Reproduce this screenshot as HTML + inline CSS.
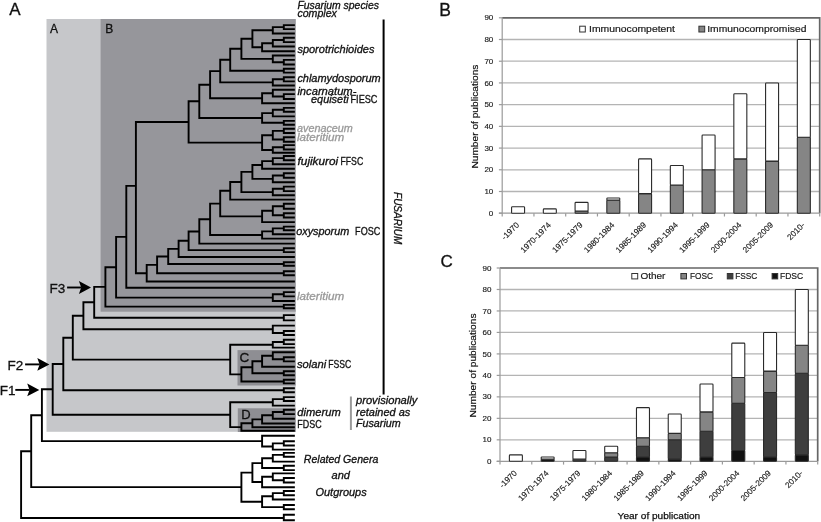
<!DOCTYPE html>
<html><head><meta charset="utf-8"><title>Fusarium figure</title>
<style>
html,body{margin:0;padding:0;background:#fff;}
svg{display:block;filter:blur(0.3px);}
text{font-family:"Liberation Sans",Arial,sans-serif;fill:#111;}
.tb{stroke:#111;stroke-width:0.3px;}
.tb.gr{stroke:#9a9a9a;}
.it{font-style:italic;}
.gr{fill:#9a9a9a;}
.tk{font-size:8px;fill:#1a1a1a;stroke:#1a1a1a;stroke-width:0.15px;}
.xl{font-size:8.2px;fill:#1a1a1a;stroke:#1a1a1a;stroke-width:0.15px;}
.lg{font-size:9.5px;fill:#1a1a1a;stroke:#1a1a1a;stroke-width:0.2px;}
.tl{font-size:10.5px;}
</style></head>
<body>
<svg width="821" height="522" viewBox="0 0 821 522">
<rect x="0" y="0" width="821" height="522" fill="#fff"/>
<!-- Panel A: shaded clade boxes -->
<rect x="46.5" y="19" width="249.2" height="412.8" fill="#c6c7ca"/>
<rect x="100.6" y="19" width="195.1" height="292.7" fill="#96969b"/>
<rect x="237.5" y="350.1" width="58.2" height="35.4" fill="#8e8e93"/>
<rect x="237.8" y="408.3" width="57.9" height="23.7" fill="#8e8e93"/>
<text x="9.3" y="14.9" class="tb" style="font-size:17px">A</text>
<text x="50" y="32.9" class="tb" style="font-size:12px">A</text>
<text x="105.3" y="32.9" class="tb" style="font-size:12px">B</text>
<text x="239.4" y="362" class="tb" style="font-size:13.5px">C</text>
<text x="241.2" y="419.2" class="tb" style="font-size:13px">D</text>
<path d="M21.1 451.2V518.0M21.1 451.2H31.2M31.2 415.2V487.1M31.2 415.2H41.9M41.9 389.3V441.1M41.9 389.3H52.7M52.7 364.0V414.7M52.7 364.0H63.3M63.3 337.7V390.2M63.3 337.7H72.8M72.8 315.8V359.6M72.8 315.8H83.4M83.4 302.3V329.3M83.4 302.3H94.2M94.2 286.9V317.8M94.2 286.9H105.4M105.4 267.2V306.6M105.4 267.2H116.1M116.1 236.9V297.6M116.1 236.9H126.3M126.3 185.9V287.8M126.3 185.9H135.9M135.9 122.0V273.2M135.9 122.0H188.6M188.6 101.3V142.6M188.6 101.3H199.3M199.3 84.7V118.0M199.3 84.7H210.1M210.1 71.1V98.2M210.1 71.1H220.2M220.2 59.8V82.4M220.2 59.8H230.2M230.2 48.8V70.7M230.2 48.8H241.4M241.4 38.8V58.9M241.4 38.8H252.4M252.4 30.3V47.2M252.4 30.3H272.8M272.8 27.1V33.5M272.8 27.1H283.8M283.8 25.1V29.1M283.8 25.1H293.9M283.8 29.1H293.9M272.8 33.5H293.9M252.4 47.2H262.1M262.1 43.2V51.2M262.1 43.2H272.8M272.8 40.0V46.5M272.8 40.0H283.8M283.8 37.8V42.1M283.8 37.8H293.9M283.8 42.1H293.9M272.8 46.5H293.9M262.1 51.2H293.9M241.4 58.9H272.8M272.8 55.5V62.2M272.8 55.5H293.9M272.8 62.2H283.8M283.8 59.9V64.5M283.8 59.9H293.9M283.8 64.5H293.9M230.2 70.7H283.8M283.8 68.8V72.6M283.8 68.8H293.9M283.8 72.6H293.9M220.2 82.4H272.8M272.8 79.3V85.5M272.8 79.3H283.8M283.8 77.2V81.4M283.8 77.2H293.9M283.8 81.4H293.9M272.8 85.5H293.9M210.1 98.2H262.1M262.1 93.2V103.3M262.1 93.2H272.8M272.8 89.8V96.5M272.8 89.8H293.9M272.8 96.5H283.8M283.8 94.1V99.0M283.8 94.1H293.9M283.8 99.0H293.9M262.1 103.3H293.9M199.3 118.0H262.1M262.1 113.1V122.8M262.1 113.1H272.8M272.8 109.8V116.4M272.8 109.8H283.8M283.8 107.9V111.8M283.8 107.9H293.9M283.8 111.8H293.9M272.8 116.4H293.9M262.1 122.8H283.8M283.8 120.9V124.8M283.8 120.9H293.9M283.8 124.8H293.9M188.6 142.6H262.1M262.1 135.2V150.0M262.1 135.2H272.8M272.8 130.9V139.5M272.8 130.9H283.8M283.8 128.8V133.0M283.8 128.8H293.9M283.8 133.0H293.9M272.8 139.5H283.8M283.8 137.3V141.7M283.8 137.3H293.9M283.8 141.7H293.9M262.1 150.0H272.8M272.8 147.3V152.7M272.8 147.3H283.8M283.8 145.1V149.5M283.8 145.1H293.9M283.8 149.5H293.9M272.8 152.7H293.9M135.9 273.2H146.7M146.7 264.9V281.5M146.7 264.9H157.1M157.1 256.5V273.3M157.1 256.5H168.2M168.2 248.9V264.0M168.2 248.9H178.6M178.6 240.8V257.0M178.6 240.8H188.6M188.6 231.5V250.1M188.6 231.5H199.3M199.3 219.3V243.6M199.3 219.3H210.1M210.1 203.6V235.0M210.1 203.6H220.2M220.2 190.8V216.4M220.2 190.8H230.2M230.2 182.0V199.6M230.2 182.0H241.4M241.4 171.9V192.1M241.4 171.9H252.4M252.4 165.0V178.9M252.4 165.0H262.1M262.1 161.1V168.8M262.1 161.1H272.8M272.8 158.1V164.2M272.8 158.1H283.8M283.8 156.0V160.2M283.8 156.0H293.9M283.8 160.2H293.9M272.8 164.2H293.9M262.1 168.8H293.9M252.4 178.9H272.8M272.8 175.5V182.3M272.8 175.5H283.8M283.8 173.3V177.7M283.8 173.3H293.9M283.8 177.7H293.9M272.8 182.3H293.9M241.4 192.1H272.8M272.8 188.8V195.3M272.8 188.8H283.8M283.8 186.6V191.1M283.8 186.6H293.9M283.8 191.1H293.9M272.8 195.3H293.9M230.2 199.6H293.9M220.2 216.4H262.1M262.1 210.8V222.1M262.1 210.8H272.8M272.8 206.2V215.3M272.8 206.2H283.8M283.8 203.8V208.7M283.8 203.8H293.9M283.8 208.7H293.9M272.8 215.3H283.8M283.8 213.2V217.5M283.8 213.2H293.9M283.8 217.5H293.9M262.1 222.1H293.9M210.1 235.0H262.1M262.1 231.4V238.6M262.1 231.4H272.8M272.8 228.4V234.3M272.8 228.4H283.8M283.8 226.6V230.3M283.8 226.6H293.9M283.8 230.3H293.9M272.8 234.3H293.9M262.1 238.6H293.9M199.3 243.6H293.9M188.6 250.1H283.8M283.8 248.2V252.1M283.8 248.2H293.9M283.8 252.1H293.9M178.6 257.0H293.9M168.2 264.0H283.8M283.8 262.2V265.8M283.8 262.2H293.9M283.8 265.8H293.9M157.1 273.3H283.8M283.8 271.3V275.3M283.8 271.3H293.9M283.8 275.3H293.9M146.7 281.5H293.9M126.3 287.8H293.9M116.1 297.6H272.8M272.8 294.2V301.0M272.8 294.2H283.8M283.8 292.1V296.4M283.8 292.1H293.9M283.8 296.4H293.9M272.8 301.0H293.9M105.4 306.6H283.8M283.8 304.9V308.3M283.8 304.9H293.9M283.8 308.3H293.9M94.2 317.8H283.8M283.8 315.1V320.4M283.8 315.1H293.9M283.8 320.4H293.9M83.4 329.3H272.8M272.8 325.6V333.0M272.8 325.6H293.9M272.8 333.0H283.8M283.8 331.0V335.0M283.8 331.0H293.9M283.8 335.0H293.9M72.8 359.6H230.2M230.2 344.8V374.4M230.2 344.8H272.8M272.8 342.0V347.6M272.8 342.0H283.8M283.8 339.8V344.1M283.8 339.8H293.9M283.8 344.1H293.9M272.8 347.6H293.9M230.2 374.4H241.4M241.4 367.2V381.5M241.4 367.2H252.4M252.4 361.2V373.2M252.4 361.2H262.1M262.1 355.8V366.7M262.1 355.8H272.8M272.8 352.3V359.3M272.8 352.3H293.9M272.8 359.3H283.8M283.8 357.2V361.4M283.8 357.2H293.9M283.8 361.4H293.9M262.1 366.7H293.9M252.4 373.2H283.8M283.8 371.2V375.2M283.8 371.2H293.9M283.8 375.2H293.9M241.4 381.5H283.8M283.8 379.7V383.4M283.8 379.7H293.9M283.8 383.4H293.9M63.3 390.2H283.8M283.8 388.3V392.2M283.8 388.3H293.9M283.8 392.2H293.9M52.7 414.7H230.2M230.2 402.3V427.1M230.2 402.3H272.8M272.8 399.1V405.6M272.8 399.1H283.8M283.8 397.1V401.0M283.8 397.1H293.9M283.8 401.0H293.9M272.8 405.6H293.9M230.2 427.1H241.4M241.4 423.3V430.8M241.4 423.3H252.4M252.4 419.4V427.2M252.4 419.4H262.1M262.1 415.3V423.5M262.1 415.3H272.8M272.8 412.0V418.7M272.8 412.0H283.8M283.8 409.8V414.1M283.8 409.8H293.9M283.8 414.1H293.9M272.8 418.7H293.9M262.1 423.5H293.9M252.4 427.2H293.9M241.4 430.8H293.9M41.9 441.1H262.1M262.1 435.7V446.5M262.1 435.7H293.9M262.1 446.5H272.8M272.8 443.4V449.6M272.8 443.4H283.8M283.8 441.2V445.5M283.8 441.2H293.9M283.8 445.5H293.9M272.8 449.6H293.9M31.2 487.1H241.4M241.4 472.6V501.7M241.4 472.6H252.4M252.4 463.1V482.0M252.4 463.1H262.1M262.1 458.2V468.0M262.1 458.2H272.8M272.8 454.9V461.6M272.8 454.9H283.8M283.8 452.9V456.8M283.8 452.9H293.9M283.8 456.8H293.9M272.8 461.6H293.9M262.1 468.0H283.8M283.8 465.8V470.1M283.8 465.8H293.9M283.8 470.1H293.9M252.4 482.0H262.1M262.1 476.8V487.2M262.1 476.8H272.8M272.8 473.4V480.2M272.8 473.4H293.9M272.8 480.2H283.8M283.8 478.0V482.5M283.8 478.0H293.9M283.8 482.5H293.9M262.1 487.2H293.9M241.4 501.7H262.1M262.1 496.3V507.1M262.1 496.3H272.8M272.8 493.1V499.5M272.8 493.1H283.8M283.8 491.0V495.2M283.8 491.0H293.9M283.8 495.2H293.9M272.8 499.5H293.9M262.1 507.1H283.8M283.8 505.0V509.2M283.8 505.0H293.9M283.8 509.2H293.9M21.1 518.0H283.8M283.8 514.7V520.2M283.8 514.7H293.9M283.8 520.2H293.9" fill="none" stroke="#000" stroke-width="1.9" stroke-linecap="square"/>
<!-- arrows -->
<g fill="#000" stroke="#000">
<line x1="67.1" y1="287.5" x2="81.4" y2="287.5" stroke-width="1.9"/>
<path d="M78.9 281.1L91.0 287.5L78.9 293.9L81.2 287.5Z" stroke="none"/>
<line x1="25.1" y1="364.4" x2="39.8" y2="364.4" stroke-width="1.9"/>
<path d="M37.3 358.0L49.4 364.4L37.3 370.8L39.6 364.4Z" stroke="none"/>
<line x1="15.3" y1="389.9" x2="29.7" y2="389.9" stroke-width="1.9"/>
<path d="M27.2 383.5L39.3 389.9L27.2 396.3L29.5 389.9Z" stroke="none"/>
</g>
<text x="49.4" y="293" class="tb" style="font-size:13.5px">F3</text>
<text x="7.4" y="369.6" class="tb" style="font-size:13.5px">F2</text>
<text x="-0.3" y="395" class="tb" style="font-size:13.5px">F1</text>
<!-- tree labels -->
<text x="297.4" y="8.5" class="it tb" textLength="81.5" lengthAdjust="spacingAndGlyphs" style="font-size:10.2px;">Fusarium species</text>
<text x="297.4" y="17" class="it tb" textLength="39.5" lengthAdjust="spacingAndGlyphs" style="font-size:10.2px;">complex</text>
<text x="297.4" y="52.7" class="it tb" textLength="77" lengthAdjust="spacingAndGlyphs" style="font-size:10.2px;">sporotrichioides</text>
<text x="297.4" y="82.2" class="it tb" textLength="83.3" lengthAdjust="spacingAndGlyphs" style="font-size:10.2px;">chlamydosporum</text>
<text x="297.4" y="94.5" class="it tb" textLength="59" lengthAdjust="spacingAndGlyphs" style="font-size:10.2px;">incarnatum-</text>
<text x="311" y="103.3" class="it tb" textLength="37.6" lengthAdjust="spacingAndGlyphs" style="font-size:10.2px;">equiseti</text>
<text x="350.5" y="103.3" class="tb" textLength="27" lengthAdjust="spacingAndGlyphs" style="font-size:10.2px;">FIESC</text>
<text x="297" y="132.4" class="it gr tb" textLength="55.8" lengthAdjust="spacingAndGlyphs" style="font-size:10.2px;">avenaceum</text>
<text x="297" y="141.1" class="it gr tb" textLength="47.3" lengthAdjust="spacingAndGlyphs" style="font-size:10.2px;">lateritium</text>
<text x="297.6" y="165.4" class="it tb" textLength="40.5" lengthAdjust="spacingAndGlyphs" style="font-size:10.2px;">fujikuroi</text>
<text x="340.4" y="165.4" class="tb" textLength="22.8" lengthAdjust="spacingAndGlyphs" style="font-size:10.2px;">FFSC</text>
<text x="296.2" y="235" class="it tb" textLength="53" lengthAdjust="spacingAndGlyphs" style="font-size:10.2px;">oxysporum</text>
<text x="355.1" y="235" class="tb" textLength="25.2" lengthAdjust="spacingAndGlyphs" style="font-size:10.2px;">FOSC</text>
<text x="297" y="299.7" class="it gr tb" textLength="47.3" lengthAdjust="spacingAndGlyphs" style="font-size:10.2px;">lateritium</text>
<text x="297" y="367.5" class="it tb" textLength="29.2" lengthAdjust="spacingAndGlyphs" style="font-size:10.2px;">solani</text>
<text x="328.3" y="367.5" class="tb" textLength="23" lengthAdjust="spacingAndGlyphs" style="font-size:10.2px;">FSSC</text>
<text x="297.3" y="415.6" class="it tb" textLength="43.4" lengthAdjust="spacingAndGlyphs" style="font-size:10.2px;">dimerum</text>
<text x="297.3" y="427.7" class="tb" textLength="24.3" lengthAdjust="spacingAndGlyphs" style="font-size:10.2px;">FDSC</text>
<text x="356" y="404.1" class="it tb" textLength="61.3" lengthAdjust="spacingAndGlyphs" style="font-size:10.2px;">provisionally</text>
<text x="356" y="415.6" class="it tb" textLength="54.2" lengthAdjust="spacingAndGlyphs" style="font-size:10.2px;">retained as</text>
<text x="356" y="427.1" class="it tb" textLength="44.7" lengthAdjust="spacingAndGlyphs" style="font-size:10.2px;">Fusarium</text>
<text x="303.8" y="462.8" class="it tb" textLength="74.5" lengthAdjust="spacingAndGlyphs" style="font-size:10.2px;">Related Genera</text>
<text x="331.6" y="479" class="it tb" textLength="18.4" lengthAdjust="spacingAndGlyphs" style="font-size:10.2px;">and</text>
<text x="315.5" y="495.8" class="it tb" textLength="51.2" lengthAdjust="spacingAndGlyphs" style="font-size:10.2px;">Outgroups</text>
<line x1="383.6" y1="19.4" x2="383.6" y2="394.6" stroke="#000" stroke-width="2"/>
<line x1="350.9" y1="396.5" x2="350.9" y2="430" stroke="#9a9a9a" stroke-width="2"/>
<text x="0" y="0" class="it tb" style="font-size:10px" textLength="52.4" lengthAdjust="spacingAndGlyphs" transform="translate(394.4 192) rotate(90)">FUSARIUM</text>
<!-- Chart B -->
<text x="439.3" y="15.8" class="tb" style="font-size:17.5px">B</text>
<line x1="502.2" y1="191.49" x2="819.7" y2="191.49" stroke="#b4b4b4" stroke-width="1.3"/>
<line x1="502.2" y1="169.78" x2="819.7" y2="169.78" stroke="#b4b4b4" stroke-width="1.3"/>
<line x1="502.2" y1="148.07" x2="819.7" y2="148.07" stroke="#b4b4b4" stroke-width="1.3"/>
<line x1="502.2" y1="126.36" x2="819.7" y2="126.36" stroke="#b4b4b4" stroke-width="1.3"/>
<line x1="502.2" y1="104.64" x2="819.7" y2="104.64" stroke="#b4b4b4" stroke-width="1.3"/>
<line x1="502.2" y1="82.93" x2="819.7" y2="82.93" stroke="#b4b4b4" stroke-width="1.3"/>
<line x1="502.2" y1="61.22" x2="819.7" y2="61.22" stroke="#b4b4b4" stroke-width="1.3"/>
<line x1="502.2" y1="39.51" x2="819.7" y2="39.51" stroke="#b4b4b4" stroke-width="1.3"/>
<path d="M502.2 17.80H819.7V213.20" fill="none" stroke="#666" stroke-width="1.7"/>
<line x1="502.2" y1="17.80" x2="502.2" y2="216.50" stroke="#9a9a9a" stroke-width="1.2"/>
<line x1="498.9" y1="213.20" x2="819.7" y2="213.20" stroke="#9a9a9a" stroke-width="1.2"/>
<line x1="498.9" y1="213.20" x2="502.2" y2="213.20" stroke="#9a9a9a" stroke-width="1.2"/>
<text x="493.3" y="215.80" text-anchor="end" class="tk">0</text>
<line x1="498.9" y1="191.49" x2="502.2" y2="191.49" stroke="#9a9a9a" stroke-width="1.2"/>
<text x="493.3" y="194.09" text-anchor="end" class="tk">10</text>
<line x1="498.9" y1="169.78" x2="502.2" y2="169.78" stroke="#9a9a9a" stroke-width="1.2"/>
<text x="493.3" y="172.38" text-anchor="end" class="tk">20</text>
<line x1="498.9" y1="148.07" x2="502.2" y2="148.07" stroke="#9a9a9a" stroke-width="1.2"/>
<text x="493.3" y="150.67" text-anchor="end" class="tk">30</text>
<line x1="498.9" y1="126.36" x2="502.2" y2="126.36" stroke="#9a9a9a" stroke-width="1.2"/>
<text x="493.3" y="128.96" text-anchor="end" class="tk">40</text>
<line x1="498.9" y1="104.64" x2="502.2" y2="104.64" stroke="#9a9a9a" stroke-width="1.2"/>
<text x="493.3" y="107.24" text-anchor="end" class="tk">50</text>
<line x1="498.9" y1="82.93" x2="502.2" y2="82.93" stroke="#9a9a9a" stroke-width="1.2"/>
<text x="493.3" y="85.53" text-anchor="end" class="tk">60</text>
<line x1="498.9" y1="61.22" x2="502.2" y2="61.22" stroke="#9a9a9a" stroke-width="1.2"/>
<text x="493.3" y="63.82" text-anchor="end" class="tk">70</text>
<line x1="498.9" y1="39.51" x2="502.2" y2="39.51" stroke="#9a9a9a" stroke-width="1.2"/>
<text x="493.3" y="42.11" text-anchor="end" class="tk">80</text>
<line x1="498.9" y1="17.80" x2="502.2" y2="17.80" stroke="#9a9a9a" stroke-width="1.2"/>
<text x="493.3" y="20.40" text-anchor="end" class="tk">90</text>
<line x1="533.95" y1="213.20" x2="533.95" y2="216.50" stroke="#9a9a9a" stroke-width="1.2"/>
<line x1="565.70" y1="213.20" x2="565.70" y2="216.50" stroke="#9a9a9a" stroke-width="1.2"/>
<line x1="597.45" y1="213.20" x2="597.45" y2="216.50" stroke="#9a9a9a" stroke-width="1.2"/>
<line x1="629.20" y1="213.20" x2="629.20" y2="216.50" stroke="#9a9a9a" stroke-width="1.2"/>
<line x1="660.95" y1="213.20" x2="660.95" y2="216.50" stroke="#9a9a9a" stroke-width="1.2"/>
<line x1="692.70" y1="213.20" x2="692.70" y2="216.50" stroke="#9a9a9a" stroke-width="1.2"/>
<line x1="724.45" y1="213.20" x2="724.45" y2="216.50" stroke="#9a9a9a" stroke-width="1.2"/>
<line x1="756.20" y1="213.20" x2="756.20" y2="216.50" stroke="#9a9a9a" stroke-width="1.2"/>
<line x1="787.95" y1="213.20" x2="787.95" y2="216.50" stroke="#9a9a9a" stroke-width="1.2"/>
<line x1="819.70" y1="213.20" x2="819.70" y2="216.50" stroke="#9a9a9a" stroke-width="1.2"/>
<rect x="511.58" y="206.69" width="13.0" height="6.51" fill="#ffffff" stroke="#2a2a2a" stroke-width="1.1" rx="0.8"/>
<rect x="543.33" y="208.86" width="13.0" height="4.34" fill="#ffffff" stroke="#2a2a2a" stroke-width="1.1" rx="0.8"/>
<rect x="575.08" y="211.03" width="13.0" height="2.17" fill="#858585" stroke="#2a2a2a" stroke-width="1.1" rx="0.8"/>
<rect x="575.08" y="202.34" width="13.0" height="8.68" fill="#ffffff" stroke="#2a2a2a" stroke-width="1.1" rx="0.8"/>
<rect x="606.83" y="200.17" width="13.0" height="13.03" fill="#858585" stroke="#2a2a2a" stroke-width="1.1" rx="0.8"/>
<rect x="606.83" y="198.00" width="13.0" height="2.17" fill="#ffffff" stroke="#2a2a2a" stroke-width="1.1" rx="0.8"/>
<rect x="638.58" y="193.66" width="13.0" height="19.54" fill="#858585" stroke="#2a2a2a" stroke-width="1.1" rx="0.8"/>
<rect x="638.58" y="158.92" width="13.0" height="34.74" fill="#ffffff" stroke="#2a2a2a" stroke-width="1.1" rx="0.8"/>
<rect x="670.33" y="184.98" width="13.0" height="28.22" fill="#858585" stroke="#2a2a2a" stroke-width="1.1" rx="0.8"/>
<rect x="670.33" y="165.44" width="13.0" height="19.54" fill="#ffffff" stroke="#2a2a2a" stroke-width="1.1" rx="0.8"/>
<rect x="702.08" y="169.78" width="13.0" height="43.42" fill="#858585" stroke="#2a2a2a" stroke-width="1.1" rx="0.8"/>
<rect x="702.08" y="135.04" width="13.0" height="34.74" fill="#ffffff" stroke="#2a2a2a" stroke-width="1.1" rx="0.8"/>
<rect x="733.83" y="158.92" width="13.0" height="54.28" fill="#858585" stroke="#2a2a2a" stroke-width="1.1" rx="0.8"/>
<rect x="733.83" y="93.79" width="13.0" height="65.13" fill="#ffffff" stroke="#2a2a2a" stroke-width="1.1" rx="0.8"/>
<rect x="765.58" y="161.09" width="13.0" height="52.11" fill="#858585" stroke="#2a2a2a" stroke-width="1.1" rx="0.8"/>
<rect x="765.58" y="82.93" width="13.0" height="78.16" fill="#ffffff" stroke="#2a2a2a" stroke-width="1.1" rx="0.8"/>
<rect x="797.33" y="137.21" width="13.0" height="75.99" fill="#858585" stroke="#2a2a2a" stroke-width="1.1" rx="0.8"/>
<rect x="797.33" y="39.51" width="13.0" height="97.70" fill="#ffffff" stroke="#2a2a2a" stroke-width="1.1" rx="0.8"/>
<text x="519.7" y="225.6" text-anchor="end" class="xl" transform="rotate(-45 519.7 225.6)">-1970</text>
<text x="551.4" y="225.6" text-anchor="end" class="xl" transform="rotate(-45 551.4 225.6)">1970-1974</text>
<text x="583.2" y="225.6" text-anchor="end" class="xl" transform="rotate(-45 583.2 225.6)">1975-1979</text>
<text x="614.9" y="225.6" text-anchor="end" class="xl" transform="rotate(-45 614.9 225.6)">1980-1984</text>
<text x="646.7" y="225.6" text-anchor="end" class="xl" transform="rotate(-45 646.7 225.6)">1985-1989</text>
<text x="678.4" y="225.6" text-anchor="end" class="xl" transform="rotate(-45 678.4 225.6)">1990-1994</text>
<text x="710.2" y="225.6" text-anchor="end" class="xl" transform="rotate(-45 710.2 225.6)">1995-1999</text>
<text x="741.9" y="225.6" text-anchor="end" class="xl" transform="rotate(-45 741.9 225.6)">2000-2004</text>
<text x="773.7" y="225.6" text-anchor="end" class="xl" transform="rotate(-45 773.7 225.6)">2005-2009</text>
<text x="805.4" y="225.6" text-anchor="end" class="xl" transform="rotate(-45 805.4 225.6)">2010-</text>
<rect x="579.7" y="26.2" width="5.6" height="5.8" fill="#fff" stroke="#333" stroke-width="1"/>
<text x="589" y="31.9" class="lg" textLength="86" lengthAdjust="spacingAndGlyphs">Immunocompetent</text>
<rect x="698.9" y="26.2" width="5.8" height="5.8" fill="#858585" stroke="#333" stroke-width="1"/>
<text x="707.2" y="31.9" class="lg" textLength="99.2" lengthAdjust="spacingAndGlyphs">Immunocompromised</text>
<text x="0" y="0" style="font-size:9.5px;fill:#111;stroke:#111;stroke-width:0.2px" text-anchor="middle" textLength="104" lengthAdjust="spacingAndGlyphs" transform="translate(478.3 116.6) rotate(-90)">Number of publications</text>
<!-- Chart C -->
<text x="440.5" y="266.8" class="tb" style="font-size:17px">C</text>
<line x1="500.0" y1="439.82" x2="817.7" y2="439.82" stroke="#b4b4b4" stroke-width="1.3"/>
<line x1="500.0" y1="418.34" x2="817.7" y2="418.34" stroke="#b4b4b4" stroke-width="1.3"/>
<line x1="500.0" y1="396.87" x2="817.7" y2="396.87" stroke="#b4b4b4" stroke-width="1.3"/>
<line x1="500.0" y1="375.39" x2="817.7" y2="375.39" stroke="#b4b4b4" stroke-width="1.3"/>
<line x1="500.0" y1="353.91" x2="817.7" y2="353.91" stroke="#b4b4b4" stroke-width="1.3"/>
<line x1="500.0" y1="332.43" x2="817.7" y2="332.43" stroke="#b4b4b4" stroke-width="1.3"/>
<line x1="500.0" y1="310.96" x2="817.7" y2="310.96" stroke="#b4b4b4" stroke-width="1.3"/>
<line x1="500.0" y1="289.48" x2="817.7" y2="289.48" stroke="#b4b4b4" stroke-width="1.3"/>
<path d="M500.0 268.00H817.7V461.30" fill="none" stroke="#666" stroke-width="1.7"/>
<line x1="500.0" y1="268.00" x2="500.0" y2="464.60" stroke="#9a9a9a" stroke-width="1.2"/>
<line x1="496.7" y1="461.30" x2="817.7" y2="461.30" stroke="#9a9a9a" stroke-width="1.2"/>
<line x1="496.7" y1="461.30" x2="500.0" y2="461.30" stroke="#9a9a9a" stroke-width="1.2"/>
<text x="491.5" y="463.90" text-anchor="end" class="tk">0</text>
<line x1="496.7" y1="439.82" x2="500.0" y2="439.82" stroke="#9a9a9a" stroke-width="1.2"/>
<text x="491.5" y="442.42" text-anchor="end" class="tk">10</text>
<line x1="496.7" y1="418.34" x2="500.0" y2="418.34" stroke="#9a9a9a" stroke-width="1.2"/>
<text x="491.5" y="420.94" text-anchor="end" class="tk">20</text>
<line x1="496.7" y1="396.87" x2="500.0" y2="396.87" stroke="#9a9a9a" stroke-width="1.2"/>
<text x="491.5" y="399.47" text-anchor="end" class="tk">30</text>
<line x1="496.7" y1="375.39" x2="500.0" y2="375.39" stroke="#9a9a9a" stroke-width="1.2"/>
<text x="491.5" y="377.99" text-anchor="end" class="tk">40</text>
<line x1="496.7" y1="353.91" x2="500.0" y2="353.91" stroke="#9a9a9a" stroke-width="1.2"/>
<text x="491.5" y="356.51" text-anchor="end" class="tk">50</text>
<line x1="496.7" y1="332.43" x2="500.0" y2="332.43" stroke="#9a9a9a" stroke-width="1.2"/>
<text x="491.5" y="335.03" text-anchor="end" class="tk">60</text>
<line x1="496.7" y1="310.96" x2="500.0" y2="310.96" stroke="#9a9a9a" stroke-width="1.2"/>
<text x="491.5" y="313.56" text-anchor="end" class="tk">70</text>
<line x1="496.7" y1="289.48" x2="500.0" y2="289.48" stroke="#9a9a9a" stroke-width="1.2"/>
<text x="491.5" y="292.08" text-anchor="end" class="tk">80</text>
<line x1="496.7" y1="268.00" x2="500.0" y2="268.00" stroke="#9a9a9a" stroke-width="1.2"/>
<text x="491.5" y="270.60" text-anchor="end" class="tk">90</text>
<line x1="531.77" y1="461.30" x2="531.77" y2="464.60" stroke="#9a9a9a" stroke-width="1.2"/>
<line x1="563.54" y1="461.30" x2="563.54" y2="464.60" stroke="#9a9a9a" stroke-width="1.2"/>
<line x1="595.31" y1="461.30" x2="595.31" y2="464.60" stroke="#9a9a9a" stroke-width="1.2"/>
<line x1="627.08" y1="461.30" x2="627.08" y2="464.60" stroke="#9a9a9a" stroke-width="1.2"/>
<line x1="658.85" y1="461.30" x2="658.85" y2="464.60" stroke="#9a9a9a" stroke-width="1.2"/>
<line x1="690.62" y1="461.30" x2="690.62" y2="464.60" stroke="#9a9a9a" stroke-width="1.2"/>
<line x1="722.39" y1="461.30" x2="722.39" y2="464.60" stroke="#9a9a9a" stroke-width="1.2"/>
<line x1="754.16" y1="461.30" x2="754.16" y2="464.60" stroke="#9a9a9a" stroke-width="1.2"/>
<line x1="785.93" y1="461.30" x2="785.93" y2="464.60" stroke="#9a9a9a" stroke-width="1.2"/>
<line x1="817.70" y1="461.30" x2="817.70" y2="464.60" stroke="#9a9a9a" stroke-width="1.2"/>
<rect x="509.38" y="454.86" width="13.0" height="6.44" fill="#ffffff" stroke="#2a2a2a" stroke-width="1.1" rx="0.8"/>
<rect x="541.15" y="459.15" width="13.0" height="2.15" fill="#111111" stroke="#2a2a2a" stroke-width="1.1" rx="0.8"/>
<rect x="541.15" y="457.00" width="13.0" height="2.15" fill="#ffffff" stroke="#2a2a2a" stroke-width="1.1" rx="0.8"/>
<rect x="572.92" y="459.15" width="13.0" height="2.15" fill="#3e3e3e" stroke="#2a2a2a" stroke-width="1.1" rx="0.8"/>
<rect x="572.92" y="450.56" width="13.0" height="8.59" fill="#ffffff" stroke="#2a2a2a" stroke-width="1.1" rx="0.8"/>
<rect x="604.70" y="457.00" width="13.0" height="4.30" fill="#3e3e3e" stroke="#2a2a2a" stroke-width="1.1" rx="0.8"/>
<rect x="604.70" y="452.71" width="13.0" height="4.30" fill="#858585" stroke="#2a2a2a" stroke-width="1.1" rx="0.8"/>
<rect x="604.70" y="446.27" width="13.0" height="6.44" fill="#ffffff" stroke="#2a2a2a" stroke-width="1.1" rx="0.8"/>
<rect x="636.47" y="457.00" width="13.0" height="4.30" fill="#111111" stroke="#2a2a2a" stroke-width="1.1" rx="0.8"/>
<rect x="636.47" y="446.27" width="13.0" height="10.74" fill="#3e3e3e" stroke="#2a2a2a" stroke-width="1.1" rx="0.8"/>
<rect x="636.47" y="437.67" width="13.0" height="8.59" fill="#858585" stroke="#2a2a2a" stroke-width="1.1" rx="0.8"/>
<rect x="636.47" y="407.61" width="13.0" height="30.07" fill="#ffffff" stroke="#2a2a2a" stroke-width="1.1" rx="0.8"/>
<rect x="668.24" y="459.15" width="13.0" height="2.15" fill="#111111" stroke="#2a2a2a" stroke-width="1.1" rx="0.8"/>
<rect x="668.24" y="439.82" width="13.0" height="19.33" fill="#3e3e3e" stroke="#2a2a2a" stroke-width="1.1" rx="0.8"/>
<rect x="668.24" y="433.38" width="13.0" height="6.44" fill="#858585" stroke="#2a2a2a" stroke-width="1.1" rx="0.8"/>
<rect x="668.24" y="414.05" width="13.0" height="19.33" fill="#ffffff" stroke="#2a2a2a" stroke-width="1.1" rx="0.8"/>
<rect x="700.00" y="457.00" width="13.0" height="4.30" fill="#111111" stroke="#2a2a2a" stroke-width="1.1" rx="0.8"/>
<rect x="700.00" y="431.23" width="13.0" height="25.77" fill="#3e3e3e" stroke="#2a2a2a" stroke-width="1.1" rx="0.8"/>
<rect x="700.00" y="411.90" width="13.0" height="19.33" fill="#858585" stroke="#2a2a2a" stroke-width="1.1" rx="0.8"/>
<rect x="700.00" y="383.98" width="13.0" height="27.92" fill="#ffffff" stroke="#2a2a2a" stroke-width="1.1" rx="0.8"/>
<rect x="731.78" y="450.56" width="13.0" height="10.74" fill="#111111" stroke="#2a2a2a" stroke-width="1.1" rx="0.8"/>
<rect x="731.78" y="403.31" width="13.0" height="47.25" fill="#3e3e3e" stroke="#2a2a2a" stroke-width="1.1" rx="0.8"/>
<rect x="731.78" y="377.54" width="13.0" height="25.77" fill="#858585" stroke="#2a2a2a" stroke-width="1.1" rx="0.8"/>
<rect x="731.78" y="343.17" width="13.0" height="34.36" fill="#ffffff" stroke="#2a2a2a" stroke-width="1.1" rx="0.8"/>
<rect x="763.55" y="457.00" width="13.0" height="4.30" fill="#111111" stroke="#2a2a2a" stroke-width="1.1" rx="0.8"/>
<rect x="763.55" y="392.57" width="13.0" height="64.43" fill="#3e3e3e" stroke="#2a2a2a" stroke-width="1.1" rx="0.8"/>
<rect x="763.55" y="371.09" width="13.0" height="21.48" fill="#858585" stroke="#2a2a2a" stroke-width="1.1" rx="0.8"/>
<rect x="763.55" y="332.43" width="13.0" height="38.66" fill="#ffffff" stroke="#2a2a2a" stroke-width="1.1" rx="0.8"/>
<rect x="795.32" y="454.86" width="13.0" height="6.44" fill="#111111" stroke="#2a2a2a" stroke-width="1.1" rx="0.8"/>
<rect x="795.32" y="373.24" width="13.0" height="81.62" fill="#3e3e3e" stroke="#2a2a2a" stroke-width="1.1" rx="0.8"/>
<rect x="795.32" y="345.32" width="13.0" height="27.92" fill="#858585" stroke="#2a2a2a" stroke-width="1.1" rx="0.8"/>
<rect x="795.32" y="289.48" width="13.0" height="55.84" fill="#ffffff" stroke="#2a2a2a" stroke-width="1.1" rx="0.8"/>
<text x="517.5" y="473.7" text-anchor="end" class="xl" transform="rotate(-45 517.5 473.7)">-1970</text>
<text x="549.3" y="473.7" text-anchor="end" class="xl" transform="rotate(-45 549.3 473.7)">1970-1974</text>
<text x="581.0" y="473.7" text-anchor="end" class="xl" transform="rotate(-45 581.0 473.7)">1975-1979</text>
<text x="612.8" y="473.7" text-anchor="end" class="xl" transform="rotate(-45 612.8 473.7)">1980-1984</text>
<text x="644.6" y="473.7" text-anchor="end" class="xl" transform="rotate(-45 644.6 473.7)">1985-1989</text>
<text x="676.3" y="473.7" text-anchor="end" class="xl" transform="rotate(-45 676.3 473.7)">1990-1994</text>
<text x="708.1" y="473.7" text-anchor="end" class="xl" transform="rotate(-45 708.1 473.7)">1995-1999</text>
<text x="739.9" y="473.7" text-anchor="end" class="xl" transform="rotate(-45 739.9 473.7)">2000-2004</text>
<text x="771.6" y="473.7" text-anchor="end" class="xl" transform="rotate(-45 771.6 473.7)">2005-2009</text>
<text x="803.4" y="473.7" text-anchor="end" class="xl" transform="rotate(-45 803.4 473.7)">2010-</text>
<rect x="631.8" y="273.5" width="5.9" height="5.4" fill="#fff" stroke="#333" stroke-width="1"/>
<text x="640.4" y="279.3" class="lg" textLength="25" lengthAdjust="spacingAndGlyphs">Other</text>
<rect x="680.9" y="273.5" width="5.6" height="5.4" fill="#858585" stroke="#333" stroke-width="1"/>
<text x="689.9" y="279.3" class="lg" textLength="23" lengthAdjust="spacingAndGlyphs">FOSC</text>
<rect x="727.3" y="273.5" width="5.6" height="5.4" fill="#3e3e3e" stroke="#333" stroke-width="1"/>
<text x="735.2" y="279.3" class="lg" textLength="22.2" lengthAdjust="spacingAndGlyphs">FSSC</text>
<rect x="772.1" y="273.5" width="5.6" height="5.4" fill="#111" stroke="#333" stroke-width="1"/>
<text x="780" y="279.3" class="lg" textLength="23.2" lengthAdjust="spacingAndGlyphs">FDSC</text>
<text x="0" y="0" style="font-size:9.5px;fill:#111;stroke:#111;stroke-width:0.2px" text-anchor="middle" textLength="104" lengthAdjust="spacingAndGlyphs" transform="translate(476.4 365.5) rotate(-90)">Number of publications</text>
<text x="617.6" y="518.7" style="font-size:9.3px;fill:#111;stroke:#111;stroke-width:0.25px" textLength="82.6" lengthAdjust="spacingAndGlyphs">Year of publication</text>
</svg>
</body></html>
